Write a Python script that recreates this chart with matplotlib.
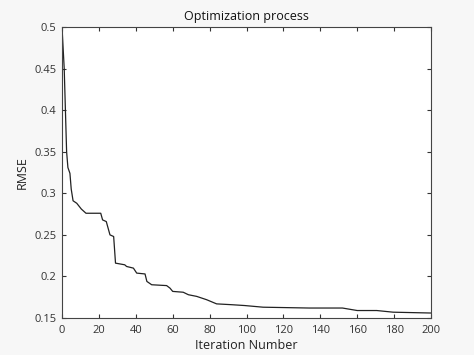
import matplotlib
matplotlib.use("Agg")
import matplotlib.pyplot as plt

iterations = [0, 1.2, 2.5, 3.2, 4.3, 5, 6, 8, 10.5, 13, 21, 22, 24, 26, 28, 29, 34, 35,
              38.7, 40.5, 45, 46, 48.6, 56.7, 58.5, 60, 65.7, 68.5, 73, 78.4, 83.8,
              92, 99, 109, 134, 152, 160, 170.6, 179.5, 200]
rmse = [0.5, 0.45, 0.35, 0.331, 0.324, 0.305, 0.291, 0.288, 0.281, 0.276, 0.276,
        0.268, 0.266, 0.25, 0.248, 0.216, 0.214, 0.212, 0.210, 0.204, 0.203, 0.194,
        0.190, 0.189, 0.186, 0.182, 0.181, 0.178, 0.176, 0.172, 0.167, 0.166, 0.165,
        0.163, 0.162, 0.162, 0.159, 0.159, 0.157, 0.156]

xticks = list(range(0, 201, 20))
yticks = [0.15, 0.2, 0.25, 0.3, 0.35, 0.4, 0.45, 0.5]
ytick_labels = ["0.15", "0.2", "0.25", "0.3", "0.35", "0.4", "0.45", "0.5"]

plt.rcParams['font.family'] = ['Open Sans', 'DejaVu Sans']

fig = plt.figure(figsize=(4.74, 3.55), dpi=100, facecolor='#f7f7f7')
ax = fig.add_axes([0.1308, 0.1042, 0.7785, 0.8197])
ax.set_facecolor('white')
ax.plot(iterations, rmse, color='#222222', linewidth=0.9)

ax.set_xlim(0, 200)
ax.set_ylim(0.15, 0.5)
ax.set_xticks(xticks)
ax.set_yticks(yticks)
ax.set_yticklabels(ytick_labels)
ax.tick_params(direction='in', top=True, right=True, length=3, width=0.8,
               labelsize=8, colors='#333333')
ax.tick_params(axis='x', pad=5)
ax.tick_params(axis='y', pad=4)
for s in ax.spines.values():
    s.set_color('#444444')
    s.set_linewidth(0.8)

ax.set_title("Optimization process", fontsize=9, color='#111111', pad=5)
ax.set_xlabel("Iteration Number", fontsize=9, color='#222222', labelpad=2)
ax.set_ylabel("RMSE", fontsize=9, color='#222222', labelpad=4)

fig.savefig("out.png", dpi=100, facecolor=fig.get_facecolor())
